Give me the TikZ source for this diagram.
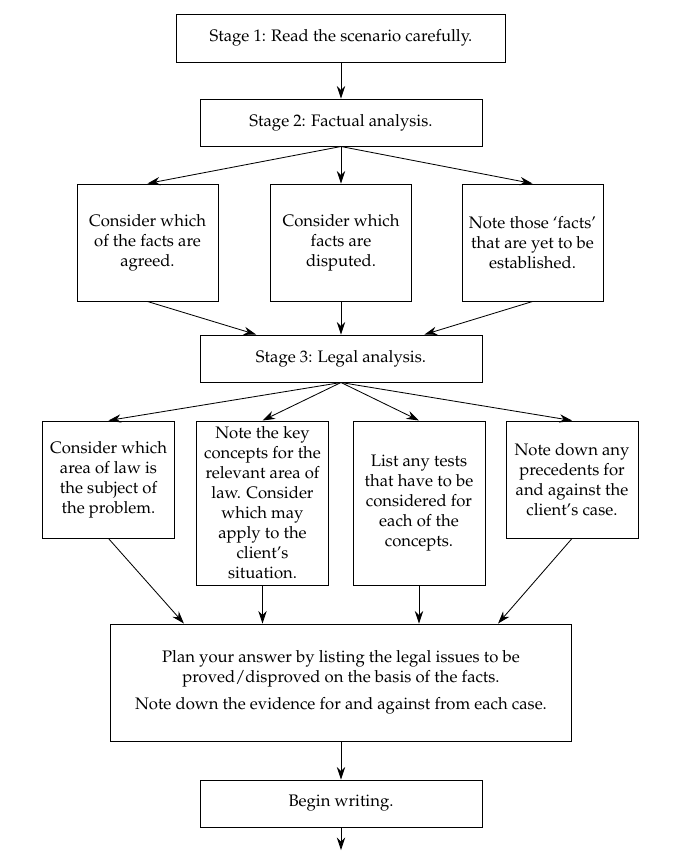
\documentclass[tikz,border=0pt]{standalone}
\usepackage[T1]{fontenc}
\usepackage{mathpazo}
\usetikzlibrary{arrows.meta,calc}

\begin{document}
\begin{tikzpicture}[x=0.6pt, y=-0.6pt,
  box/.style={draw, line width=0.6pt, align=center, inner sep=0pt},
  wide/.style={box, minimum width=169.2pt, minimum height=28.2pt},
  fact/.style={box, minimum width=84.6pt, minimum height=70.2pt},
  law/.style={box, minimum width=79.2pt, minimum height=#1},
  link/.style={-{Stealth[length=7.5pt, width=5pt]}, line width=0.5pt}]
\useasboundingbox (0, 0) rectangle (685, 852);
% stages
\node[box, minimum width=197.4pt, minimum height=28.8pt] (read) at (341, 38) {Stage 1: Read the scenario carefully.};
\node[wide] (factual) at (341, 122.5) {Stage 2: Factual analysis.};
\node[fact] (agreed) at (147.5, 242.5) {Consider which\\of the facts are\\agreed.};
\node[fact] (disputed) at (341, 242.5) {Consider which\\facts are\\disputed.};
\node[fact] (open) at (532.5, 242.5) {Note those `facts'\\that are yet to be\\established.};
\node[wide] (legal) at (341, 358.5) {Stage 3: Legal analysis.};
\node[law=70.2pt] (area) at (108.5, 479.5) {Consider which\\area of law is\\the subject of\\the problem.};
\node[law=98.4pt] (concepts) at (262.5, 503) {Note the key\\concepts for the\\relevant area of\\law. Consider\\which may\\apply to the\\client's\\situation.};
\node[law=98.4pt] (tests) at (419, 503) {List any tests\\that have to be\\considered for\\each of the\\concepts.};
\node[law=70.2pt] (precedents) at (572, 479.5) {Note down any\\precedents for\\and against the\\client's case.};
\node[box, minimum width=276.6pt, minimum height=70.2pt] (plan) at (341, 682.5) {Plan your answer by listing the legal issues to be\\proved/disproved on the basis of the facts.\\[4pt]Note down the evidence for and against from each case.};
\node[wide] (writing) at (341, 803.5) {Begin writing.};
\coordinate (next) at (341, 850);
% arrows
\draw[link] (read) -- (factual);
\draw[link] (factual.south) -- (agreed.north);
\draw[link] (factual.south) -- (disputed.north);
\draw[link] (factual.south) -- (open.north);
\draw[link] (agreed.south) -- ($(legal.north west)!0.2!(legal.north east)$);
\draw[link] (disputed.south) -- (legal.north -| disputed.south);
\draw[link] (open.south) -- ($(legal.north west)!0.795!(legal.north east)$);
\draw[link] (legal.south) -- (area.north);
\draw[link] (legal.south) -- (concepts.north);
\draw[link] (legal.south) -- (tests.north);
\draw[link] (legal.south) -- (precedents.north);
\draw[link] (area.south) -- ($(plan.north west)!0.16!(plan.north east)$);
\draw[link] (concepts.south) -- (plan.north -| concepts.south);
\draw[link] (tests.south) -- (plan.north -| tests.south);
\draw[link] (precedents.south) -- ($(plan.north west)!0.84!(plan.north east)$);
\draw[link] (plan) -- (writing);
\draw[link] (writing) -- (next);
\end{tikzpicture}
\end{document}
